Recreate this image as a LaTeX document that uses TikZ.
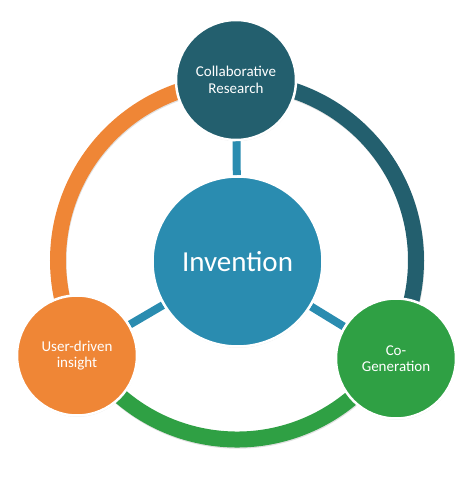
\documentclass[tikz,border=0pt]{standalone}
\usepackage{fontspec}
\setmainfont{Carlito}
\usetikzlibrary{backgrounds,shadows}
\definecolor{invblue}{HTML}{2A8CB0}
\definecolor{darkteal}{HTML}{235F6E}
\definecolor{orangec}{HTML}{EF8636}
\definecolor{greenc}{HTML}{2FA044}
\tikzset{
  bubble/.style={circle, draw=white, line width=2.5pt, text=white, align=center,
    minimum size=120pt, inner sep=0pt, font=\fontsize{15}{16.5}\selectfont,
    drop shadow={opacity=0.25, shadow xshift=0.4pt, shadow yshift=-1.2pt}},
  hub/.style={bubble, minimum size=170pt, fill=invblue, font=\fontsize{29}{32}\selectfont},
  ringarc/.style={line width=16pt},
  spoke/.style={draw=invblue, line width=8pt}
}
\begin{document}
\begin{tikzpicture}[x=1pt,y=1pt]
\useasboundingbox (0,0) rectangle (474,493);
\coordinate (rc) at (237,232.5);
\node[hub] (inv) at (237.5,231.5) {Invention};
\node[bubble, fill=darkteal] (top) at (236,413) {Collaborative\\Research};
\node[bubble, fill=orangec] (left) at (77,137.5) {User-driven\\insight};
\node[bubble, fill=greenc] (right) at (396,134.5) {Co-\\Generation};
\begin{scope}[on background layer]
  \draw[ringarc, draw=black, opacity=0.12] ([shift={(90:179pt)}]rc) ++(0.5,-1.2) arc[start angle=90, end angle=450, radius=179pt];
  \draw[ringarc, draw=orangec] ([shift={(90:179pt)}]rc) arc[start angle=90, end angle=210, radius=179pt];
  \draw[ringarc, draw=darkteal] ([shift={(90:179pt)}]rc) arc[start angle=90, end angle=-30, radius=179pt];
  \draw[ringarc, draw=greenc] ([shift={(210:179pt)}]rc) arc[start angle=210, end angle=330, radius=179pt];
  \draw[spoke] (inv) -- (top);
  \draw[spoke] (inv) -- (left);
  \draw[spoke] (inv) -- (right);
\end{scope}
\end{tikzpicture}
\end{document}
